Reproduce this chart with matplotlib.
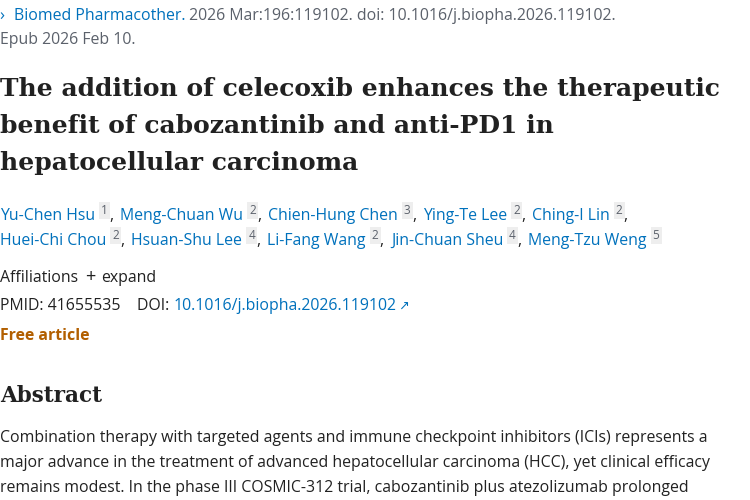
import matplotlib

matplotlib.use("Agg")
import matplotlib.pyplot as plt

# --- content -------------------------------------------------------------
CITATION = ["Biomed Pharmacother.", " 2026 Mar:196:119102. doi: 10.1016/j.biopha.2026.119102."]
EPUB = "Epub 2026 Feb 10."
TITLE_LINES = [
    "The addition of celecoxib enhances the therapeutic",
    "benefit of cabozantinib and anti-PD1 in",
    "hepatocellular carcinoma",
]
AUTHORS_1 = [("Yu-Chen Hsu", "1"), ("Meng-Chuan Wu", "2"), ("Chien-Hung Chen", "3"),
             ("Ying-Te Lee", "2"), ("Ching-I Lin", "2")]
AUTHORS_2 = [("Huei-Chi Chou", "2"), ("Hsuan-Shu Lee", "4"), ("Li-Fang Wang", "2"),
             ("Jin-Chuan Sheu", "4"), ("Meng-Tzu Weng", "5")]
PMID = "41655535"
DOI = "10.1016/j.biopha.2026.119102"
ABSTRACT_LINES = [
    "Combination therapy with targeted agents and immune checkpoint inhibitors (ICIs) represents a",
    "major advance in the treatment of advanced hepatocellular carcinoma (HCC), yet clinical efficacy",
    "remains modest. In the phase III COSMIC-312 trial, cabozantinib plus atezolizumab prolonged",
]
# -------------------------------------------------------------------------

W, H = 750, 500
BLUE = "#0071bc"
DARK = "#212121"
GRAY = "#5b616b"
ORANGE = "#b25f00"
SANS = ["Open Sans", "DejaVu Sans"]
SERIF = ["DejaVu Serif"]
BODY = 11.4

fig = plt.figure(figsize=(7.5, 5), dpi=100)
renderer = fig.canvas.get_renderer()


def put(x, y, s, size=BODY, color=DARK, family=SANS, weight="normal", box=False):
    """Place text at pixel x, baseline y (from top); return right edge in px."""
    t = fig.text(x / W, 1 - y / H, s, fontsize=size, color=color, family=family,
                 weight=weight, va="baseline", ha="left")
    if box:
        t.set_bbox(dict(facecolor="#eeeeee", edgecolor="none", pad=1.5))
    bb = t.get_window_extent(renderer)
    return bb.x1


def runs(x, y, parts):
    for s, kw in parts:
        x = put(x, y, s, **kw)
    return x


runs(0, 20, [("›  ", dict(color=BLUE, size=12)), (CITATION[0], dict(color=BLUE)),
             (CITATION[1], dict(color=GRAY))])
put(0, 44, EPUB, color=GRAY)

for i, line in enumerate(TITLE_LINES):
    put(0, 96 + i * 37, line, size=18, family=SERIF, weight="bold")


def author_line(y, authors, trailing):
    x = 0
    for j, (name, sup) in enumerate(authors):
        x = put(x, y, name, color=BLUE)
        x = put(x + 6, y - 6, sup, size=8.5, color=GRAY, box=True)
        x += 2
        if j < len(authors) - 1 or trailing:
            x = put(x, y, ", ", color=DARK)
        x += 2


author_line(220, AUTHORS_1, True)
author_line(245, AUTHORS_2, False)

runs(0, 282, [("Affiliations  ", dict()), ("+ ", dict(size=13)), ("expand", dict())])
runs(0, 310, [(f"PMID: {PMID}    DOI: ", dict()), (DOI, dict(color=BLUE)),
              (" ↗", dict(color=BLUE, size=9))])
put(0, 340, "Free article", color=ORANGE, weight="bold")

put(0, 402, "Abstract", size=15.5, family=SERIF, weight="bold")
for i, line in enumerate(ABSTRACT_LINES):
    put(0, 442 + i * 25, line)

fig.savefig("out.png", dpi=100)
